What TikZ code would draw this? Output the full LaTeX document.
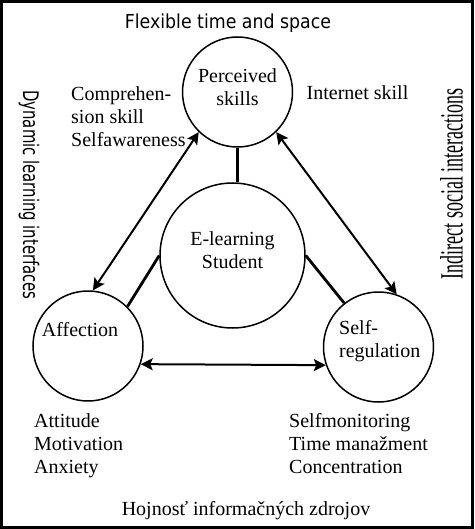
\documentclass[tikz,border=0pt]{standalone}
\usepackage{fontspec}
\usepackage{graphicx}
\setmainfont{Liberation Serif}
\newfontfamily\sansfont{DejaVu Sans Condensed}
\usetikzlibrary{arrows.meta}

\begin{document}
\begin{tikzpicture}[> = {Stealth[length = 12pt, width = 12pt, inset = 2.5pt]}, % arrow head style
                x = 1pt, y = -1pt % one unit per pixel
            ]

            \tikzstyle{every node}=[inner sep = 0pt,
            font = \rmfamily\fontsize{20}{23}\selectfont]
            \tikzstyle{ring}=[draw = black, circle, line width = 1.5pt,
            minimum size = 110pt]
            \tikzstyle{list}=[align = left, anchor = north west]
            \tikzstyle{link}=[line width = 2.8pt]
            \tikzstyle{arr}=[<->, line width = 2pt]

            \useasboundingbox (0,0) rectangle (474,529);
            \draw[line width = 3pt] (1.5,1.5) rectangle (472.5,527.5);

            \node[ring] (perc) at (237.5,92) {};
            \node[ring, minimum size = 145pt] (stu) at (232.5,255.5) {};
            \node[ring] (aff) at (88,346) {};
            \node[ring] (self) at (378.5,347) {};

            \node[align = center] (perct) at (237.5,87.5) {Perceived\\skills};
            \node[align = center] (stut) at (232.5,250) {E-learning\\Student};
            \node (afft) at (80,330) {Affection};
            \node[align = left, anchor = west] (selft) at (339,341)
            {Self-\\regulation};

            \node[list] (comp) at (71,86) {Comprehen-\\sion skill\\Selfawareness};
            \node (inet) at (357.5,93) {Internet skill};
            \node[list] (att) at (34,413) {Attitude\\Motivation\\Anxiety};
            \node[list] (mon) at (289,413)
            {Selfmonitoring\\Time manažment\\Concentration};

            \node[font = \sansfont\fontsize{19.3}{23}\selectfont] (flex) at
            (228,23) {Flexible time and space};
            \node[anchor = base] (hoj) at (246,515) {Hojnosť informačných zdrojov};
            \node[rotate = -90, font = \sansfont\fontsize{16.5}{20}\selectfont]
            (dyn) at (29,195) {\scalebox{1}[1.3]{Dynamic learning interfaces}};
            \node[rotate = 90, font = \rmfamily\fontsize{18}{20}\selectfont] (ind) at
            (451.5,184) {\scalebox{1}[1.8]{Indirect social interactions}};

            \draw[arr] (aff.85) -- (perc.226); \draw[arr] (perc.314) --
            (self.71); \draw[arr] (aff.-19) -- (self.199);

            \draw[link] (perc.south) -- (perc.south |- stu.north);
            \draw[link] (aff.45) -- (stu.180); \draw[link] (stu.0) -- (self.128);
        \end{tikzpicture}
\end{document}
